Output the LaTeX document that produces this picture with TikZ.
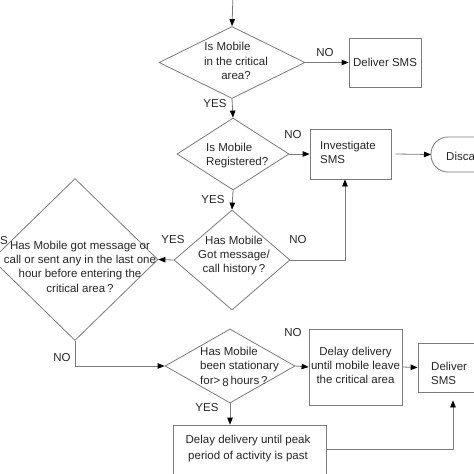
\documentclass[tikz,border=0pt]{standalone}
\usepackage{fontspec}
\setmainfont{Liberation Sans}
\usetikzlibrary{shapes.geometric,arrows.meta,calc}
\definecolor{lineg}{HTML}{7A7A7A}
\definecolor{txt}{HTML}{262626}
\begin{document}
\begin{tikzpicture}[x=1pt,y=-1pt,
  every node/.style={text=txt,font=\fontsize{11.5}{14.2}\selectfont},
  dia/.style={draw=lineg,line width=0.8pt,diamond,inner sep=0pt,minimum width=#1},
  boxs/.style={draw=lineg,line width=0.8pt,rectangle,inner sep=0pt},
  lbl/.style={inner sep=0pt},
  conn/.style={draw=lineg,line width=0.8pt,-{Triangle[length=7pt,width=5.5pt,color=black]}},
  plain/.style={draw=lineg,line width=0.8pt}
]
\useasboundingbox (0,0) rectangle (474,474);
% decisions
\node[dia=146pt,minimum height=72pt] (d1) at (232,62.5) {};
\node[dia=112pt,minimum height=72pt] (d2) at (233,154) {};
\node[dia=116pt,minimum height=100pt] (d3) at (232,260) {};
\node[dia=166pt,minimum height=162pt] (d4) at (75,259.5) {};
\node[dia=130pt,minimum height=74pt] (d5) at (230,366) {};
% texts inside decisions
\node[lbl,align=center] (t1) at (236,61) {Is Mobile\hspace*{17pt}\\in the critical\\area?};
\node[lbl,align=left,anchor=west] (t2) at (206,155.5) {Is Mobile\\Registered?};
\node[lbl,align=center] (t3) at (234,255.5) {Has Mobile\\Got message/\\call history\,?};
\node[lbl,align=center,font=\fontsize{11.5}{14.4}\selectfont] (t4) at (80,266.5) {Has Mobile got message or\\call or sent any in the last one\\hour before entering the\\critical area\,?};
\node[lbl,align=left,anchor=west] (t5) at (200,367) {Has Mobile\\been stationary\\for>\,\raisebox{-2.5pt}{8}\,hours\,?};
% process boxes
\node[boxs,minimum width=72pt,minimum height=49pt] (deliver1) at (385,62.5) {};
\node[lbl] (tdeliver1) at (385,62.5) {Deliver SMS};
\node[boxs,minimum width=81pt,minimum height=50pt] (investigate) at (350.5,154) {};
\node[lbl,align=left,anchor=west] (tinv) at (320,152.5) {Investigate\\SMS};
\draw[lineg,line width=0.8pt,rounded corners=17pt] (431,137) rectangle (530,172);
\node[lbl,anchor=west] (discard) at (446,156) {Discard};
\coordinate (discardw) at (431,154.5);
\node[boxs,minimum width=93pt,minimum height=76pt] (delay1) at (355.5,367) {};
\node[lbl,align=center] (tdelay1) at (355.5,365.5) {Delay delivery\\until mobile leave\\the critical area};
\node[boxs,minimum width=70pt,minimum height=49pt] (deliver2) at (453,367.5) {};
\node[lbl,align=left,anchor=west] (tdeliver2) at (431,373) {Deliver\\SMS};
\node[boxs,minimum width=153pt,minimum height=56pt] (delay2) at (249.5,453) {};
\node[lbl,align=center,font=\fontsize{11.5}{16.8}\selectfont] (tdelay2) at (248,448.5) {Delay delivery until peak\\period of activity is past};
% labels
\node[lbl] (no1) at (325,53) {NO};
\node[lbl] (yes1) at (215,104) {YES};
\node[lbl] (no2) at (293,135) {NO};
\node[lbl] (yes2) at (213,200) {YES};
\node[lbl] (no3) at (298,240) {NO};
\node[lbl] (yes3) at (173,240) {YES};
\node[lbl,anchor=east] (yes4) at (8,241) {YES};
\node[lbl] (no4) at (62,358) {NO};
\node[lbl] (no5) at (293,333) {NO};
\node[lbl] (yes5) at (207,408) {YES};
% connectors
\coordinate (start) at (233,-5);
\draw[conn] (start) -- (d1.north);
\draw[conn] (d1.east) -- (deliver1.west);
\draw[conn] (d1.south) -- (d2.north);
\draw[conn] (d2.east) -- (investigate.west);
\draw[conn] ($(investigate.east)+(4,0)$) -- (discardw);
\draw[conn] (d2.south) -- (d3.north);
\draw[conn] (d3.east) -| ($(investigate.south)+(-5.5,0)$);
\draw[conn] (d3.west) -- (d4.east);
\draw[conn] (d4.south) |- (d5.west);
\draw[conn] (d5.east) -- (delay1.west);
\draw[conn] (delay1.east) -- (deliver2.west);
\draw[conn] (d5.south) -- (d5.south |- delay2.north);
\draw[conn] ($(delay2.east)+(0,-4)$) -| ($(deliver2.south)+(0,8)$);
\end{tikzpicture}
\end{document}
